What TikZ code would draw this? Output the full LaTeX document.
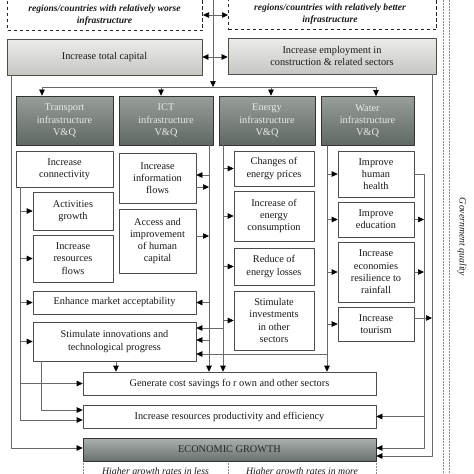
\documentclass[tikz,border=0pt]{standalone}
\usepackage{fontspec}
\setmainfont{Liberation Serif}
\usetikzlibrary{arrows.meta}
\definecolor{lnclr}{RGB}{105,105,105}
\definecolor{captop}{RGB}{236,236,232}
\definecolor{capbot}{RGB}{198,199,195}
\definecolor{inftop}{RGB}{152,158,154}
\definecolor{infbot}{RGB}{96,104,100}
\definecolor{inftxt}{RGB}{232,234,232}
\definecolor{grwtop}{RGB}{172,177,174}
\definecolor{grwbot}{RGB}{104,112,109}
\begin{document}
\begin{tikzpicture}[x=1pt,y=-1pt,line join=round,
  >={Triangle[length=6pt,width=5.5pt,color=black]},
  every node/.style={font=\fontsize{10.3}{12.3}\selectfont,align=center,inner sep=1pt,text=black!90},
  sz/.style 2 args={minimum width=#1,minimum height=#2},
  wbox/.style={draw=black!70,fill=white,line width=0.6pt},
  capbox/.style={draw=black!70,line width=0.7pt,top color=captop,bottom color=capbot},
  infbox/.style={draw=black!80,line width=0.7pt,top color=inftop,bottom color=infbot,text=inftxt},
  grwbox/.style={draw=black!80,line width=0.7pt,top color=grwtop,bottom color=grwbot,text=black!85},
  dbox/.style={draw=black!85,line width=1pt,dash pattern=on 3.5pt off 2.5pt},
  obox/.style={draw=black!45,densely dotted,line width=0.5pt},
  ln/.style={draw=lnclr,line width=0.6pt},
  arr/.style={ln,->},
  darr/.style={ln,<->},
  ital/.style={font=\fontsize{9.8}{12.3}\selectfont\itshape},
  bital/.style={font=\fontsize{9.6}{12.3}\selectfont\bfseries\itshape}]
\useasboundingbox (0,0) rectangle (474,474);

\node[dbox,sz={195}{60},anchor=south west] (worse) at (7,31) {};
\node[bital] (worsetxt) at (104.5,15) {regions/countries with relatively worse\\infrastructure};
\node[dbox,sz={208}{60},anchor=south west] (better) at (228,30) {};
\node[bital] (bettertxt) at (330,14) {regions/countries with relatively better\\infrastructure};

\node[capbox,sz={195}{36}] (cap) at (104.5,57) {Increase total capital};
\node[capbox,sz={208}{36}] (emp) at (332,56) {Increase employment in\\construction \& related sectors};

\node[infbox,sz={97}{49}] (tr) at (64.5,120.5) {Transport\\infrastructure\\V\&Q};
\node[infbox,sz={94}{49}] (ict) at (166,120.5) {ICT\\infrastructure\\V\&Q};
\node[infbox,sz={96}{49}] (en) at (267,120.5) {Energy\\infrastructure\\V\&Q};
\node[infbox,sz={93}{49}] (wa) at (367.5,121) {Water\\infrastructure\\V\&Q};

\node[wbox,sz={97}{36}] (conn) at (64.5,169) {Increase\\connectivity};
\node[wbox,sz={80}{38}] (actg) at (73,211) {Activities\\growth};
\node[wbox,sz={80}{47}] (resf) at (73,258.5) {Increase\\resources\\flows};
\node[wbox,sz={163}{23}] (mkt) at (114.5,302.5) {Enhance market acceptability};
\node[wbox,sz={163}{39}] (inno) at (114.5,341.5) {Stimulate innovations and\\technological progress};

\node[wbox,sz={77}{50}] (info) at (157.5,178) {Increase\\information\\flows};
\node[wbox,sz={77}{64}] (hcap) at (157.5,241) {Access and\\improvement\\of human\\capital};

\node[wbox,sz={80}{35}] (price) at (274,168.5) {Changes of\\energy prices};
\node[wbox,sz={80}{50}] (cons) at (274,216) {Increase of\\energy\\consumption};
\node[wbox,sz={80}{37}] (loss) at (274,266.5) {Reduce of\\energy losses};
\node[wbox,sz={80}{59}] (inv) at (274,320.5) {Stimulate\\investments\\in other\\sectors};

\node[wbox,sz={76}{46}] (hlth) at (376,174) {Improve\\human\\health};
\node[wbox,sz={76}{35}] (edu) at (376,219.5) {Improve\\education};
\node[wbox,sz={76}{60}] (rain) at (376,272) {Increase\\economies\\resilience to\\rainfall};
\node[wbox,sz={76}{34}] (tour) at (376,324) {Increase\\tourism};

\node[wbox,sz={293}{23}] (sav) at (229.5,383.5) {Generate cost savings fo r own and other sectors};
\node[wbox,sz={293}{23}] (prod) at (229.5,416.5) {Increase resources productivity and efficiency};
\node[obox,sz={145}{22},anchor=north,ital] (less) at (155.5,461) {Higher growth rates in less};
\node[obox,sz={148}{22},anchor=north,ital] (more) at (302,461) {Higher growth rates in more};
\node[grwbox,sz={293}{23}] (grow) at (229.5,449.5) {ECONOMIC GROWTH};

\node[ital,rotate=-90] (gov) at (462,237) {Government quality};
\draw[obox] (443,-2) -- (443,476);
\draw[obox] (449,-2) -- (449,476);

\coordinate (src) at (213,-2);
\coordinate (dl) at (42,87);
\coordinate (dr) at (376,87);
\draw[ln] (dl) -- (dr);
\draw[arr] (src) -- (src |- dl);
\foreach \n/\x in {tr/42,ict/161,en/271,wa/376}
  \draw[arr] (\x,87) -- (\x,0 |- \n.north);
\draw[darr] (worsetxt -| worse.east) -- (worsetxt -| better.west);
\draw[darr] (cap.east) -- (cap.east -| emp.west);

\draw[arr] (11,0 |- cap.south) |- ([yshift=1.5]grow.west);
\draw[arr] (432,0 |- emp.south) |- ([yshift=-6.5]grow.east);
\draw[arr] (hlth.east) -| ([yshift=1.5]grow.east -| 424,0) -- ([yshift=1.5]grow.east);
\draw[arr] (424,0 |- prod) -- (prod.east);
\foreach \n in {edu,rain}
  \draw[arr] (\n.east) -- (424,0 |- \n);
\draw[arr] ([yshift=6]tour.east) -- ([yshift=6]tour.east -| 432,0);

\draw[arr] (20,0 |- conn.south) |- ([yshift=-3.5]prod.west);
\foreach \n in {actg,resf,mkt,inno,sav}
  \draw[arr] (20,0 |- \n) -- (\n.west);
\draw[arr] (41,0 |- inno.south) |- ([yshift=6.5]prod.west);
\draw[arr] ([xshift=1.5]inno.south) -- ([xshift=1.5]inno.south |- sav.north);

\draw[arr] (209,0 |- ict.south) -- (209,0 |- sav.north);
\draw[arr] ([yshift=3]info.east -| 209,0) -- ([yshift=3]info.east);
\draw[arr] ([yshift=-9]info.east) -- ([yshift=-9]info.east -| 209,0);
\draw[arr] ([yshift=5]hcap.east) -- ([yshift=5]hcap.east -| 209,0);
\draw[arr] (209,0 |- mkt) -- (mkt.east);
\draw[arr] ([yshift=1.5]inno.east -| 209,0) -- ([yshift=1.5]inno.east);

\draw[arr] (223,0 |- en.south) -- (223,0 |- sav.north);
\foreach \n in {price,cons,loss,inv}
  \draw[arr] (223,0 |- \n) -- (\n.west);
\draw[arr] ([yshift=13.5]inno.east -| 223,0) -- ([yshift=13.5]inno.east);

\draw[arr] (327,0 |- wa.south) -- (327,0 |- sav.north);
\foreach \n in {hlth,edu,rain,tour}
  \draw[arr] (327,0 |- \n) -- (\n.west);
\draw[arr] ([yshift=-12.5]inno.east -| 327,0) -- ([yshift=-12.5]inno.east);
\end{tikzpicture}
\end{document}
